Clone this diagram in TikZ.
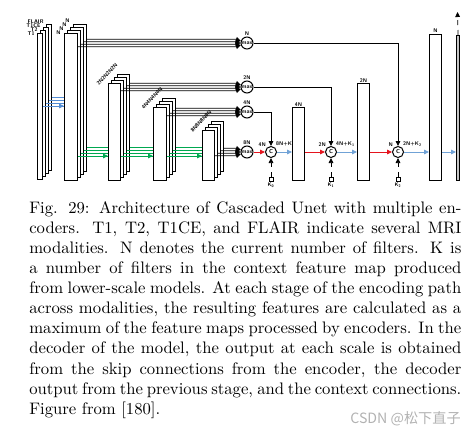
\documentclass[tikz,border=0pt]{standalone}
\usepackage{fontspec}
\newfontfamily\cjkfont{Noto Sans CJK SC}
\usepackage{tikz}
\usetikzlibrary{shapes}
\usetikzlibrary{arrows,arrows.meta}
\usetikzlibrary{calc}
\def\pxu{0.6pt}
\definecolor{inblue}{RGB}{84,141,212}
\definecolor{encgreen}{RGB}{0,168,80}
\definecolor{upred}{RGB}{228,20,30}
\definecolor{outblue}{RGB}{112,162,214}
\tikzset{
  slab/.style={draw,fill=white,line width=0.65pt,inner sep=0pt,anchor=north west},
  tag/.style={font=\fontsize{3.2}{3.6}\selectfont\sffamily\bfseries,inner sep=0.4pt},
  max node/.style={circle,draw,fill=white,line width=0.6pt,minimum size=12*\pxu,inner sep=0pt,
    font=\fontsize{3.4}{4}\selectfont\sffamily\bfseries},
  cat node/.style={max node,minimum size=11*\pxu},
  ctx/.style={draw,fill=white,line width=0.5pt,minimum size=4*\pxu,inner sep=0pt},
  link/.style={line width=0.45pt},
  inlink/.style={line width=0.5pt,inblue},
  enclink/.style={line width=0.5pt,encgreen},
  uplink/.style={line width=0.5pt,upred},
  outlink/.style={line width=0.5pt,outblue}
}
\begin{document}
\begin{tikzpicture}[x=\pxu,y=-\pxu,>={Triangle[length=3pt,width=2.8pt]}]
  \useasboundingbox (0,0) rectangle (474,434);
  % modalities
  \foreach \i/\t in {3/FLAIR,2/T1CE,1/T2,0/T1}{
    \node[slab,minimum width=5*\pxu,minimum height=146*\pxu] (in\i) at (37+3*\i,33-3*\i) {};
    \node[tag,anchor=east] at ($(in\i.north west)+(-1.5,1-1.2*\i)$) {\t};
  }
  % encoders
  \foreach \i in {3,2,1,0}{
    \node[slab,minimum width=13*\pxu,minimum height=147*\pxu] (ea\i) at (64+3*\i,33-3*\i) {};
    \node[tag] at ($(ea\i.north west)+(-5.5,-0.5-0.8*\i)$) {N};
  }
  \foreach \s/\x/\y/\w/\h/\t in {eb/108/83/12/97/2N,ec/153/107/13/73/4N,ed/202/130/12/50/8N}
    \foreach \i in {3,2,1,0}{
      \node[slab,minimum width=\w*\pxu,minimum height=\h*\pxu] (\s\i) at (\x+3*\i,\y-3*\i) {};
      \node[tag,rotate=45] at ($(\s\i.north west)+(-8+1.7*\i,-1-2*\i)$) {\t};
    }
  % max over modalities
  \foreach \m/\y/\t in {1/43/N,2/87/2N,3/112/4N,4/152/8N}{
    \node[max node,label={[tag]90:\t}] (max\m) at (247,\y) {max};
    \coordinate (gate\m) at (236,\y);
  }
  \foreach \m/\s in {1/ea,2/eb,3/ec,4/ed}
    \foreach \i in {0,...,3}
      \draw[link,->] ($(\s\i.east |- max\m)+(0,3.75-2.5*\i)$) -- ($(gate\m)+(0,3.75-2.5*\i)$) -- (max\m);
  % between stages
  \coordinate (brow) at (0,106);
  \coordinate (grow) at (0,156);
  \foreach \i in {0,...,3}{
    \draw[inlink] ($(in\i.east |- brow)+(0,-3*\i)$) -- ($(ea0.west |- brow)+(0,-3*\i)$);
    \draw[enclink] ($(ea\i.east |- grow)+(0,-3*\i)$) -- ($(eb0.west |- grow)+(0,-3*\i)$);
    \draw[enclink] ($(eb\i.east |- grow)+(0,-3*\i)$) -- ($(ec0.west |- grow)+(0,-3*\i)$);
    \draw[enclink] ($(ec\i.east |- grow)+(0,-3*\i)$) -- ($(ed0.west |- grow)+(0,-3*\i)$);
  }
  \draw[inlink,->] (in0.east |- brow) -- (ea0.west |- brow);
  \draw[enclink,->] (ea0.east |- grow) -- (eb0.west |- grow);
  \draw[enclink,->] (eb0.east |- grow) -- (ec0.west |- grow);
  \draw[enclink,->] (ec0.east |- grow) -- (ed0.west |- grow);
  % decoder
  \node[cat node,label={[tag]135:4N},label={[tag]45:8N+K\textsubscript{0}}] (c1) at (271,152) {C};
  \node[slab,minimum width=12*\pxu,minimum height=73*\pxu,label={[tag]above:4N}] (dec1) at (292,107) {};
  \node[cat node,label={[tag]135:2N},label={[tag]45:4N+K\textsubscript{1}}] (c2) at (331,152) {C};
  \node[slab,minimum width=12*\pxu,minimum height=97*\pxu,label={[tag]above:2N}] (dec2) at (357,83) {};
  \node[cat node,label={[tag]135:N},label={[tag]45:2N+K\textsubscript{2}}] (c3) at (398,152) {C};
  \node[slab,minimum width=12*\pxu,minimum height=146*\pxu,label={[tag]above:N}] (dec3) at (429,34) {};
  \node[slab,fill=gray!45,minimum width=3*\pxu,minimum height=145*\pxu] (out) at (456,35) {};
  \coordinate (top) at (457.5,12);
  \coordinate (kline) at (0,179);
  \foreach \k/\c in {0/c1,1/c2,2/c3}{
    \node[ctx,label={[tag]below:K\textsubscript{\k}}] (k\k) at (\c |- kline) {};
    \draw[link,dashed,->] (k\k) -- (\c);
  }
  \draw[link,->] (max1) -| (c3);
  \draw[link,->] (max2) -| (c2);
  \draw[link,->] (max3) -| (c1);
  \draw[uplink,->] (max4) -- (c1);
  \draw[outlink,->] (c1) -- (dec1.west |- c1);
  \draw[uplink,->] (dec1.east |- c2) -- (c2);
  \draw[outlink,->] (c2) -- (dec2.west |- c2);
  \draw[uplink,->] (dec2.east |- c3) -- (c3);
  \draw[outlink,->] (c3) -- (dec3.west |- c3);
  \draw[outlink,->] (dec3.east |- c3) -- (out.west |- c3);
  \draw[link,dashed,->] (out.north) -- (top);
  % caption
  \node[anchor=north west,inner sep=0pt,text width=259.2pt,align=justify,
    font=\fontsize{10}{12.06}\selectfont] (cap) at (29,201) {Fig. 29: Architecture of Cascaded Unet with multiple en-\linebreak
    coders. T1, T2, T1CE, and FLAIR indicate several MRI\linebreak
    modalities. N denotes the current number of filters. K is\linebreak
    a number of filters in the context feature map produced\linebreak
    from lower-scale models. At each stage of the encoding path\linebreak
    across modalities, the resulting features are calculated as a\linebreak
    maximum of the feature maps processed by encoders. In the\linebreak
    decoder of the model, the output at each scale is obtained\linebreak
    from the skip connections from the encoder, the decoder\linebreak
    output from the previous stage, and the context connections.\linebreak
    Figure from [180].};
  \node[anchor=east,inner sep=0pt,text=gray!60,font=\cjkfont\fontsize{8.5}{10}\selectfont] (wm) at (461,419) {CSDN @松下直子};
\end{tikzpicture}
\end{document}
